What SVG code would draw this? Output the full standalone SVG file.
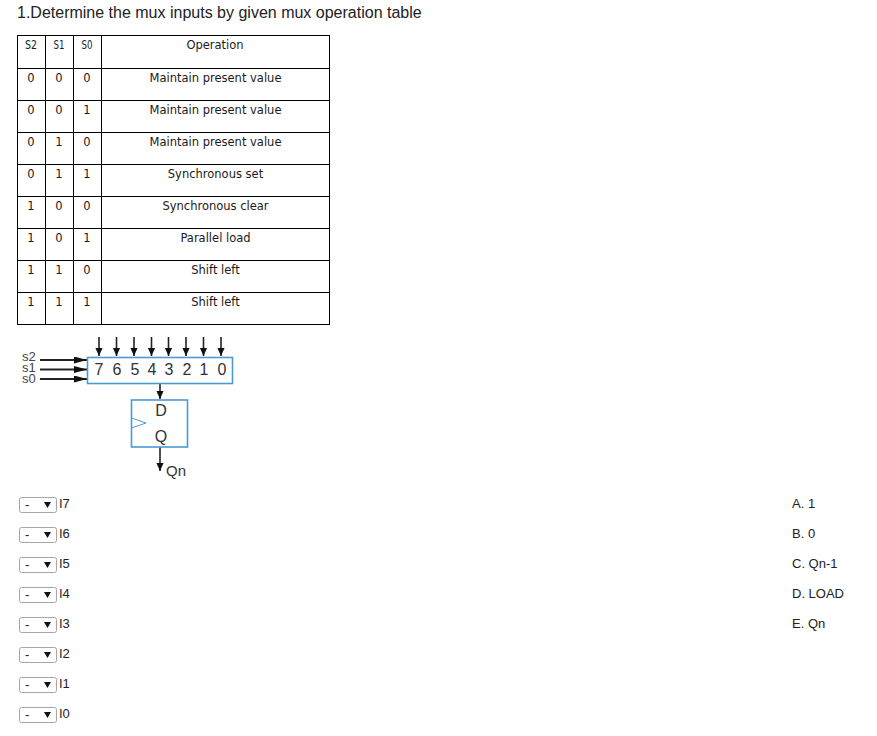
<svg xmlns="http://www.w3.org/2000/svg" width="877" height="736" viewBox="0 0 877 736">
<style>
text{font-family:"Liberation Sans",Arial,sans-serif;fill:#222}
.t{font-family:"DejaVu Sans",Verdana,sans-serif;font-size:11.500px;text-anchor:middle;fill:#1a1a1a}
.g{stroke:#000;stroke-width:1;fill:none;shape-rendering:crispEdges}
.l{font-size:13px}
.w{stroke:#222;stroke-width:1.6;fill:none}
.sw{stroke:#222;stroke-width:1.8;fill:none}
.b{stroke:#4a9ad4;stroke-width:1.6;fill:#fff}
.d{font-size:16px;text-anchor:middle;fill:#333}
.s{font-size:13px;fill:#444;text-anchor:start}
.sel{fill:#fff;stroke:#a6a6a6;stroke-width:1}
.dash{font-size:13px;fill:#222}
.tri{fill:#111}
</style>
<defs><marker id="a" markerWidth="8" markerHeight="10" refX="9" refY="4" orient="auto" markerUnits="userSpaceOnUse" viewBox="0 0 9 8"><path d="M0 0L9 4L0 8z" fill="#111"/></marker>
<marker id="h" markerWidth="13" markerHeight="7" refX="13" refY="3.500" orient="auto" markerUnits="userSpaceOnUse"><path d="M0 0L13 3.500L0 7z" fill="#111"/></marker></defs>
<text x="17" y="18" font-size="16">1.Determine the mux inputs by given mux operation table</text>
<g id="table">
<path class="g" d="M17.500 35.500H329.500V324.500H17.500ZM17.500 68.500H329.500M17.500 100.500H329.500M17.500 132.500H329.500M17.500 164.500H329.500M17.500 196.500H329.500M17.500 228.500H329.500M17.500 260.500H329.500M17.500 292.500H329.500M45.500 35.500V324.500M73.500 35.500V324.500M101.500 35.500V324.500"/>
<text class="t" x="31" y="49" textLength="12" lengthAdjust="spacingAndGlyphs">S2</text><text class="t" x="59" y="49" textLength="11" lengthAdjust="spacingAndGlyphs">S1</text><text class="t" x="87" y="49" textLength="11" lengthAdjust="spacingAndGlyphs">S0</text><text class="t" x="215" y="49">Operation</text>
<text class="t" x="31" y="82">0</text><text class="t" x="59" y="82">0</text><text class="t" x="87" y="82">0</text><text class="t" x="215.500" y="82">Maintain present value</text>
<text class="t" x="31" y="114">0</text><text class="t" x="59" y="114">0</text><text class="t" x="87" y="114">1</text><text class="t" x="215.500" y="114">Maintain present value</text>
<text class="t" x="31" y="146">0</text><text class="t" x="59" y="146">1</text><text class="t" x="87" y="146">0</text><text class="t" x="215.500" y="146">Maintain present value</text>
<text class="t" x="31" y="178">0</text><text class="t" x="59" y="178">1</text><text class="t" x="87" y="178">1</text><text class="t" x="215.500" y="178">Synchronous set</text>
<text class="t" x="31" y="210">1</text><text class="t" x="59" y="210">0</text><text class="t" x="87" y="210">0</text><text class="t" x="215.500" y="210">Synchronous clear</text>
<text class="t" x="31" y="242">1</text><text class="t" x="59" y="242">0</text><text class="t" x="87" y="242">1</text><text class="t" x="215.500" y="242">Parallel load</text>
<text class="t" x="31" y="274">1</text><text class="t" x="59" y="274">1</text><text class="t" x="87" y="274">0</text><text class="t" x="215.500" y="274">Shift left</text>
<text class="t" x="31" y="306">1</text><text class="t" x="59" y="306">1</text><text class="t" x="87" y="306">1</text><text class="t" x="215.500" y="306">Shift left</text>
</g>
<g id="connectors">
<path class="w" marker-end="url(#a)" d="M99 337V356"/><path class="w" marker-end="url(#a)" d="M116.500 337V356"/><path class="w" marker-end="url(#a)" d="M134 337V356"/><path class="w" marker-end="url(#a)" d="M151.500 337V356"/><path class="w" marker-end="url(#a)" d="M168.500 337V356"/><path class="w" marker-end="url(#a)" d="M186 337V356"/><path class="w" marker-end="url(#a)" d="M203.500 337V356"/><path class="w" marker-end="url(#a)" d="M221 337V356"/>
<path class="sw" marker-end="url(#h)" d="M40 360H87"/><path class="sw" marker-end="url(#h)" d="M40 369.500H87"/><path class="sw" marker-end="url(#h)" d="M40 379H87"/>
<path class="w" marker-end="url(#a)" d="M160 383V399"/><path class="w" marker-end="url(#a)" d="M160 447V471"/>
</g>
<g id="mux"><rect class="b" x="87.500" y="357.500" width="145" height="26"/>
<text class="d" x="99" y="375">7</text><text class="d" x="117" y="375">6</text><text class="d" x="135" y="375">5</text><text class="d" x="152" y="375">4</text><text class="d" x="169" y="375">3</text><text class="d" x="187" y="375">2</text><text class="d" x="204" y="375">1</text><text class="d" x="222" y="375">0</text></g>
<g id="ff"><rect class="b" x="131.500" y="400" width="56" height="47"/><path d="M131.500 418L146 423L131.500 428" fill="none" stroke="#4a9ad4" stroke-width="1"/>
<text class="d" x="161" y="416">D</text><text class="d" x="161" y="442">Q</text></g>
<g id="labels"><text x="22" y="361" class="s">s2</text><text x="22" y="372" class="s">s1</text><text x="22" y="383" class="s">s0</text><text x="166" y="476" font-size="15" style="fill:#333">Qn</text></g>
<g id="selects">
<g><rect class="sel" x="19.500" y="497.500" width="37" height="15" rx="2"/><text class="dash" x="25" y="509">-</text><path class="tri" d="M44 502h7l-3.500 6z"/><text class="l" x="59" y="508">I7</text></g>
<g><rect class="sel" x="19.500" y="527.500" width="37" height="15" rx="2"/><text class="dash" x="25" y="539">-</text><path class="tri" d="M44 532h7l-3.500 6z"/><text class="l" x="59" y="538">I6</text></g>
<g><rect class="sel" x="19.500" y="557.500" width="37" height="15" rx="2"/><text class="dash" x="25" y="569">-</text><path class="tri" d="M44 562h7l-3.500 6z"/><text class="l" x="59" y="568">I5</text></g>
<g><rect class="sel" x="19.500" y="587.500" width="37" height="15" rx="2"/><text class="dash" x="25" y="599">-</text><path class="tri" d="M44 592h7l-3.500 6z"/><text class="l" x="59" y="598">I4</text></g>
<g><rect class="sel" x="19.500" y="617.500" width="37" height="15" rx="2"/><text class="dash" x="25" y="629">-</text><path class="tri" d="M44 622h7l-3.500 6z"/><text class="l" x="59" y="628">I3</text></g>
<g><rect class="sel" x="19.500" y="647.500" width="37" height="15" rx="2"/><text class="dash" x="25" y="659">-</text><path class="tri" d="M44 652h7l-3.500 6z"/><text class="l" x="59" y="658">I2</text></g>
<g><rect class="sel" x="19.500" y="677.500" width="37" height="15" rx="2"/><text class="dash" x="25" y="689">-</text><path class="tri" d="M44 682h7l-3.500 6z"/><text class="l" x="59" y="688">I1</text></g>
<g><rect class="sel" x="19.500" y="707.500" width="37" height="15" rx="2"/><text class="dash" x="25" y="719">-</text><path class="tri" d="M44 712h7l-3.500 6z"/><text class="l" x="59" y="718">I0</text></g>
</g>
<g id="answers"><text class="l" x="792" y="508">A. 1</text><text class="l" x="792" y="538">B. 0</text><text class="l" x="792" y="568">C. Qn-1</text><text class="l" x="792" y="598">D. LOAD</text><text class="l" x="792" y="628">E. Qn</text></g>
</svg>
